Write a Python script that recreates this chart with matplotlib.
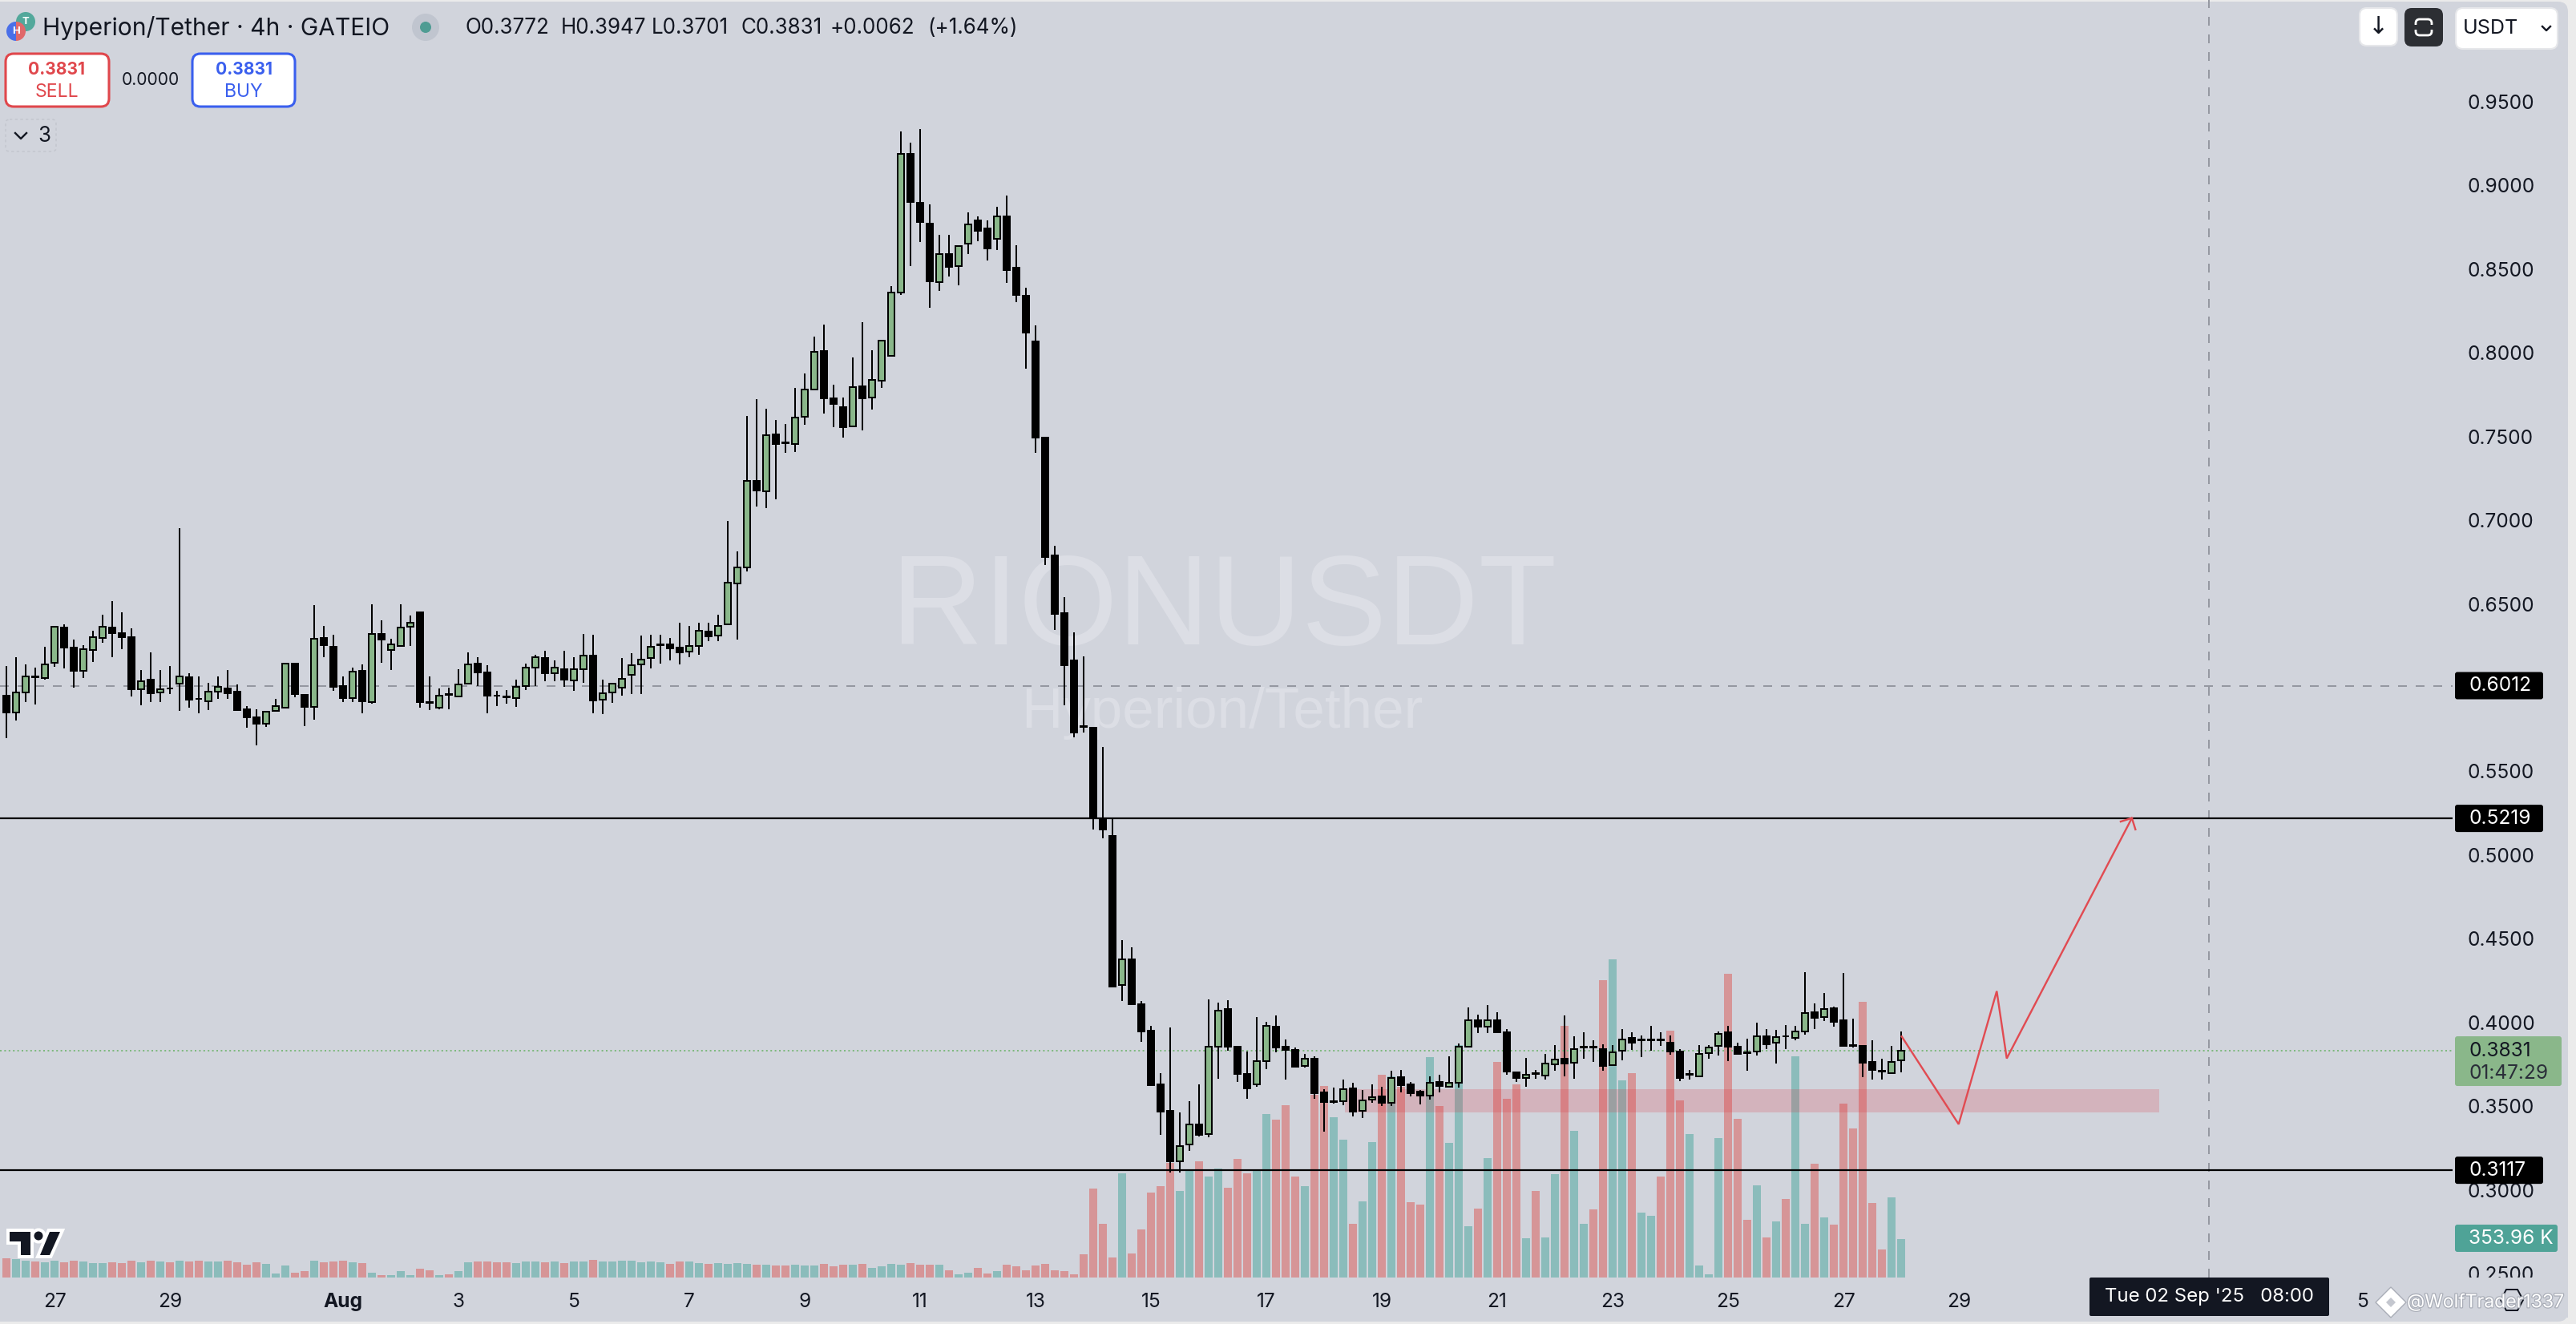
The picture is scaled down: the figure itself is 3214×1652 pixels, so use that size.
import numpy as np
import matplotlib
matplotlib.use("Agg")
import matplotlib.pyplot as plt
import matplotlib.patheffects as pe
from matplotlib.patches import FancyBboxPatch, Rectangle, Circle, Wedge, Polygon

W, H = 3214, 1652
BG = "#d1d4dc"
OUTER = "#ebebeb"
INK = "#131722"
plt.rcParams["font.family"] = ["Inter", "DejaVu Sans"]

# 4h candles, 26 Jul 20:00 to 28 Aug 04:00
opens = [
    .5950, .5852, .5969, .6067, .6057, .6149, .6357, .6240, .6101, .6226,
    .6298, .6360, .6328, .6304, .5991, .6046, .5972, .5997, .6025, .6060,
    .5935, .5919, .5977, .5993, .5974, .5872, .5824, .5785, .5862, .5881,
    .6144, .5958, .5886, .6298, .6245, .6010, .5939, .6101, .5913, .6322,
    .6226, .6250, .6365, .6448, .5914, .5881, .5961, .5948, .6025, .6144,
    .6089, .5953, .5947, .5939, .6012, .6121, .6178, .6087, .6111, .6044,
    .6111, .6192, .5927, .5972, .6001, .6077, .6140, .6175, .6260, .6259,
    .6239, .6216, .6250, .6336, .6312, .6376, .6623, .6719, .7236, .7175,
    .7514, .7466, .7456, .7616, .7779, .8012, .7729, .7676, .7562, .7801,
    .7731, .7836, .7980, .8361, .9191, .8899, .8773, .8425, .8591, .8519,
    .8653, .8792, .8744, .8682, .8816, .8510, .8342, .8069, .7495, .6792,
    .6447, .6165, .5769, .5762, .5218, .5114, .4226, .4375, .4111, .3950,
    .3629, .3470, .3171, .3269, .3393, .3331, .3857, .4078, .3857, .3690,
    .3632, .3771, .3977, .3853, .3838, .3738, .3781, .3580, .3528, .3529,
    .3604, .3471, .3537, .3556, .3522, .3671, .3628, .3586, .3561, .3644,
    .3618, .3642, .3857, .4015, .3974, .4011, .3939, .3704, .3666, .3698,
    .3685, .3752, .3781, .3757, .3853, .3853, .3842, .3744, .3829, .3910,
    .3896, .3896, .3896, .3881, .3824, .3690, .3677, .3816, .3859, .3939,
    .3857, .3820, .3826, .3918, .3877, .3919, .3907, .3945, .4059, .4030,
    .4084, .4011, .3866, .3859, .3762, .3710, .3699, .3772,
]
highs = [
    .6127, .6184, .6141, .6121, .6242, .6363, .6379, .6288, .6255, .6339,
    .6438, .6515, .6448, .6352, .6103, .6213, .6103, .6127, .6955, .6084,
    .6069, .6030, .6065, .6103, .6017, .5892, .5872, .5856, .5935, .6143,
    .6144, .5958, .6491, .6371, .6314, .6069, .6121, .6137, .6500, .6400,
    .6290, .6496, .6429, .6448, .6069, .5993, .6002, .6108, .6213, .6180,
    .6132, .5982, .5988, .6049, .6144, .6194, .6218, .6165, .6219, .6180,
    .6322, .6314, .6049, .6031, .6175, .6207, .6309, .6314, .6317, .6295,
    .6389, .6371, .6389, .6389, .6438, .6998, .6816, .7621, .7726, .7664,
    .7601, .7573, .7793, .7879, .8095, .8171, .7812, .7731, .7975, .8181,
    .8018, .8072, .8401, .9325, .9258, .9339, .8885, .8703, .8703, .8637,
    .8841, .8813, .8789, .8875, .8942, .8645, .8391, .8162, .7495, .6849,
    .6543, .6332, .6188, .5762, .5647, .5226, .4491, .4448, .4127, .3979,
    .3696, .3969, .3462, .3529, .3629, .4137, .4118, .4132, .3857, .3826,
    .4031, .4003, .4041, .3897, .3848, .3811, .3797, .3601, .3610, .3658,
    .3639, .3596, .3629, .3615, .3711, .3715, .3644, .3596, .3677, .3687,
    .3797, .3872, .4089, .4046, .4103, .4060, .3960, .3709, .3787, .3715,
    .3811, .3864, .4041, .3917, .3940, .3893, .3869, .3864, .3960, .3940,
    .3921, .3979, .3940, .3921, .3843, .3715, .3864, .3864, .3945, .3979,
    .3878, .3902, .3998, .3960, .3955, .3984, .3979, .4300, .4113, .4175,
    .4094, .4295, .4022, .3864, .3893, .3782, .3859, .3947,
]
lows = [
    .5698, .5805, .5913, .5900, .6050, .6124, .6117, .5999, .6057, .6152,
    .6267, .6181, .6232, .5945, .5897, .5916, .5913, .5961, .5860, .5878,
    .5849, .5865, .5932, .5932, .5859, .5760, .5655, .5765, .5860, .5881,
    .5942, .5769, .5808, .6184, .5983, .5913, .5913, .5846, .5904, .6148,
    .6105, .6250, .6251, .5878, .5865, .5873, .5872, .5945, .6020, .6012,
    .5849, .5889, .5902, .5884, .5985, .6012, .6038, .6038, .6004, .5980,
    .6031, .5849, .5841, .5908, .5951, .5964, .5964, .6117, .6146, .6162,
    .6137, .6180, .6194, .6280, .6280, .6376, .6286, .6695, .7081, .7072,
    .7126, .7402, .7407, .7570, .7779, .7637, .7555, .7493, .7555, .7536,
    .7660, .7790, .7980, .8345, .8517, .8661, .8269, .8369, .8455, .8403,
    .8589, .8666, .8551, .8613, .8417, .8302, .7905, .7402, .6731, .6343,
    .5896, .5705, .5730, .5154, .5098, .4215, .4129, .4102, .3883, .3621,
    .3329, .3101, .3101, .3233, .3318, .3316, .3664, .3832, .3645, .3545,
    .3616, .3722, .3822, .3660, .3731, .3731, .3545, .3348, .3516, .3505,
    .3439, .3430, .3521, .3502, .3502, .3581, .3559, .3511, .3540, .3583,
    .3612, .3613, .3857, .3937, .3937, .3942, .3688, .3645, .3616, .3664,
    .3660, .3712, .3677, .3664, .3782, .3765, .3712, .3744, .3775, .3835,
    .3794, .3829, .3861, .3808, .3650, .3660, .3677, .3784, .3803, .3770,
    .3808, .3712, .3803, .3840, .3755, .3840, .3894, .3928, .3961, .4009,
    .3976, .3856, .3851, .3674, .3660, .3660, .3695, .3701,
]
closes = [
    .5852, .5969, .6065, .6063, .6141, .6363, .6239, .6100, .6232, .6301,
    .6363, .6325, .6301, .5990, .6038, .5966, .5990, .5993, .6066, .5927,
    .5931, .5975, .6004, .5966, .5865, .5822, .5784, .5856, .5889, .6143,
    .5961, .5884, .6291, .6253, .6006, .5937, .6095, .5918, .6320, .6287,
    .6258, .6358, .6387, .5913, .5910, .5951, .5957, .6018, .6138, .6090,
    .5951, .5950, .5944, .6004, .6119, .6181, .6085, .6119, .6047, .6109,
    .6191, .5923, .5966, .6023, .6052, .6133, .6167, .6243, .6256, .6234,
    .6210, .6248, .6339, .6307, .6368, .6626, .6717, .7234, .7177, .7507,
    .7455, .7462, .7613, .7780, .8005, .7727, .7694, .7555, .7795, .7727,
    .7838, .8072, .8360, .9188, .8901, .8781, .8427, .8589, .8513, .8637,
    .8767, .8728, .8623, .8814, .8494, .8345, .8120, .7493, .6782, .6439,
    .6133, .5730, .5765, .5218, .5154, .4215, .4378, .4108, .3947, .3626,
    .3468, .3171, .3262, .3393, .3329, .3856, .4071, .3856, .3693, .3607,
    .3767, .3980, .3851, .3837, .3735, .3784, .3578, .3526, .3524, .3602,
    .3468, .3535, .3554, .3521, .3669, .3626, .3578, .3561, .3640, .3621,
    .3640, .3856, .4012, .3976, .4012, .3942, .3707, .3669, .3688, .3694,
    .3755, .3779, .3755, .3842, .3849, .3849, .3741, .3822, .3899, .3880,
    .3892, .3892, .3892, .3824, .3669, .3686, .3813, .3850, .3933, .3856,
    .3813, .3816, .3918, .3870, .3913, .3915, .3947, .4057, .4028, .4081,
    .4004, .3859, .3862, .3760, .3717, .3706, .3765, .3831,
]

# volume in thousands, r = red bar, t = teal bar
volumes = [
    177, 170, 155, 147, 140, 155, 140, 155, 147, 133,
    133, 140, 133, 155, 140, 155, 147, 140, 155, 147,
    155, 147, 147, 155, 140, 118, 140, 125, 37, 111,
    44, 59, 155, 140, 147, 155, 140, 133, 44, 22,
    22, 59, 22, 81, 66, 22, 29, 59, 140, 147,
    147, 140, 140, 133, 147, 147, 140, 147, 133, 147,
    147, 162, 147, 147, 155, 155, 140, 147, 140, 125,
    147, 147, 133, 125, 133, 125, 133, 125, 118, 118,
    111, 111, 118, 111, 111, 125, 103, 118, 118, 125,
    88, 103, 125, 118, 133, 118, 118, 118, 66, 29,
    44, 88, 37, 59, 118, 103, 66, 111, 125, 66,
    59, 29, 214, 819, 494, 184, 959, 221, 442, 782,
    841, 1054, 796, 995, 1069, 929, 1003, 826, 1091, 959,
    995, 1504, 1453, 1585, 929, 841, 1681, 1762, 1475, 1268,
    494, 701, 1246, 1866, 1851, 1755, 693, 671, 2028, 1578,
    1239, 2136, 472, 634, 1099, 1984, 1644, 1777, 361, 796,
    369, 951, 2315, 1349, 494, 627, 2736, 2928, 1814, 1880,
    597, 568, 929, 2271, 1630, 1320, 111, 29, 1283, 2795,
    1460, 531, 848, 369, 516, 723, 2035, 494, 1047, 553,
    487, 1600, 1372, 2537, 686, 258, 737, 353.96,
]
vol_sides = (
    "rttrttrrtt" "trrrtrtrtr" "rttrrrrttt" "rrtrrrtrtr" "tttrrtrttr"
    "rrrtttrtrt" "trtttttttr" "rttrttttrt" "rrtttrrrtr" "ttttrrrtrt"
    "trrtrrrrrr" "rrrrrrtrrr" "rrttrttrrr" "ttrrrtrrtt" "rttrtrrrtr"
    "tttrtrrrtr" "ttrttrrttr" "ttrrrttttr" "rrtrtrttrt" "rrrrrrtt"
)

price_ticks = [.95, .90, .85, .80, .75, .70, .65, .60, .55, .50, .45, .40, .35, .30, .25]
date_labels = ["27", "29", "Aug", "3", "5", "7", "9", "11", "13", "15", "17", "19",
               "21", "23", "25", "27", "29", "5"]
date_bars = [5, 17, 35, 47, 59, 71, 83, 95, 107, 119, 131, 143, 155, 167, 179, 191, 203, 245]

support_levels = [.5219, .3117]
crosshair_price = .6012
crosshair_bar = 229
last_price = .3831
zone_bars = [139.2, 223.8]
zone_prices = [.3462, .3601]
path_bars = [197.06, 202.98, 206.94, 207.98, 220.99]
path_prices = [.3916, .3392, .4187, .3785, .5221]
arrow_bars = [219.83, 220.99, 221.36]
arrow_prices = [.5200, .5221, .5153]


def pt(px):
    return px * 0.72


def price_y(p):
    return 127 + (.95 - p) * 2088.6


fig = plt.figure(figsize=(W / 100, H / 100), dpi=100, facecolor=OUTER)
fig.add_artist(FancyBboxPatch((-20 / W, 1 - 1649 / H), 3224 / W, 1647 / H, boxstyle="round,pad=0,rounding_size=0.004",
                              transform=fig.transFigure, fc=BG, ec="none", zorder=-1, mutation_aspect=W / H))

# plot area: pixels 0-3060 across, 0-1594 down
pos = [0, 1 - 1594 / H, 3060 / W, 1594 / H]
ax_vol = fig.add_axes(pos, zorder=1)
ax = fig.add_axes(pos, zorder=2, sharex=ax_vol)
for a in (ax, ax_vol):
    a.patch.set_visible(False)
    for s in a.spines.values():
        s.set_visible(False)

bars = np.arange(len(closes))
o, h, l, c = map(np.array, (opens, highs, lows, closes))

ax_vol.text(1527 / W, 1 - 763 / H, "RIONUSDT", transform=fig.transFigure, family="Liberation Sans",
            fontsize=pt(159), color="#dcdee5", ha="center", va="center", zorder=0)
ax_vol.text(1525 / W, 1 - 890 / H, "Hyperion/Tether", transform=fig.transFigure, family="Liberation Sans",
            fontsize=pt(71), color="#dcdee5", ha="center", va="center", zorder=0)

vol_colors = ["#d69597" if s == "r" else "#8bbcbb" for s in vol_sides]
ax_vol.bar(bars, volumes, width=10 / 12, color=vol_colors, lw=0, zorder=2)
ax_vol.set_ylim(0, 1594 * 7.374)
ax_vol.set_yticks([])
ax_vol.tick_params(axis="x", length=0, labelbottom=False)

# zone, levels, crosshair
ax.add_patch(Rectangle((zone_bars[0], zone_prices[0]), zone_bars[1] - zone_bars[0], zone_prices[1] - zone_prices[0],
                       fc="#e02f3c", alpha=.2, ec="none", zorder=1))
for lvl in support_levels:
    ax.axhline(lvl, color="black", lw=pt(2.2), zorder=2)
ax.axhline(crosshair_price, color="#9598a1", lw=pt(2), dashes=(5.5, 5.5), zorder=1.5)
ax.axvline(crosshair_bar, color="#9598a1", lw=pt(2), dashes=(5.5, 5.5), zorder=1.5)
ax.axhline(last_price, color="#7fb97f", lw=pt(2), dashes=(1, 1.7), zorder=1.5)

# candles
up = c >= o
ax.vlines(bars, l, h, color="black", lw=pt(2), zorder=3)
ax.bar(bars[up], (c - o)[up], bottom=o[up], width=8 / 12, fc="#8ab78a", ec="black", lw=pt(2), zorder=4)
ax.bar(bars[~up], (o - c)[~up], bottom=c[~up], width=8 / 12, fc="black", ec="black", lw=pt(2), zorder=4)

# drawn path
ax.plot(path_bars, path_prices, color="#e14b52", lw=pt(2.4), zorder=5, solid_joinstyle="miter")
ax.plot(arrow_bars, arrow_prices, color="#e14b52", lw=pt(2.4), zorder=5)

ax.set_xlim(-8 / 12, (3060 - 8) / 12)
ax.set_ylim(.95 - (1594 - 127) / 2088.6, .95 + 127 / 2088.6)
ax.yaxis.tick_right()
ax.set_yticks(price_ticks)
ax.set_yticklabels([f"{p:.4f}" for p in price_ticks], fontsize=pt(24.5), color=INK)
ax.set_xticks(date_bars)
ax.set_xticklabels(date_labels, fontsize=pt(24.5), color=INK)
ax.tick_params(axis="both", length=0)
ax.tick_params(axis="y", pad=pt(18))
ax.tick_params(axis="x", pad=pt(19))
ax.get_xticklabels()[2].set_fontweight("bold")

# UI drawn in image pixels on top
ui = fig.add_axes([0, 0, 1, 1], zorder=3)
ui.set_xlim(0, W)
ui.set_ylim(H, 0)
ui.axis("off")


def box(x0, y0, x1, y1, fc, ec="none", lw=0, r=4, **kw):
    ui.add_patch(FancyBboxPatch((x0, y0), x1 - x0, y1 - y0, boxstyle=f"round,pad=0,rounding_size={r}",
                                fc=fc, ec=ec, lw=lw, **kw))


def label(x, y, s, size, color=INK, ha="left", weight="normal", **kw):
    return ui.text(x, y, s, fontsize=pt(size), color=color, ha=ha, va="center", fontweight=weight, **kw)


# hide the lower part of the 0.2500 tick
ui.add_patch(Rectangle((3062, 1594), 142, 50, fc=BG, ec="none"))

# header
ui.add_patch(Circle((32, 27), 12, fc="#53a89b", ec="none"))
label(32, 27, "T", 13, "white", "center", "bold")
ui.add_patch(Wedge((20, 39), 12, 90, 270, fc="#4a6fe8", ec="none"))
ui.add_patch(Wedge((20, 39), 12, -90, 90, fc="#e0686a", ec="none"))
label(20, 39, "H", 13, "white", "center", "bold")
label(53, 35, "Hyperion/Tether · 4h · GATEIO", 30)
ui.add_patch(Circle((531, 34), 17, fc="#c0c5cf", ec="none"))
ui.add_patch(Circle((531, 34), 7, fc="#4f9c93", ec="none"))
for x, s in zip([581, 700, 813, 925, 1036, 1157],
                ["O0.3772", "H0.3947", "L0.3701", "C0.3831", "+0.0062", "(+1.64%)"]):
    label(x, 35, s, 26)

box(7, 67, 136, 133, "white", "#e0474c", 2.2, r=10)
label(71, 87, "0.3831", 21, "#e0474c", "center", "bold")
label(71, 115, "SELL", 23, "#e0474c", "center")
label(188, 100, "0.0000", 21, INK, "center")
box(240, 67, 368, 133, "white", "#3a5fee", 2.2, r=10)
label(304, 87, "0.3831", 21, "#3a5fee", "center", "bold")
label(304, 115, "BUY", 23, "#3a5fee", "center")

box(7, 149, 70, 189, "none", "#c4c7cf", 1.2, r=5, ls=(0, (2, 2)))
ui.plot([19, 26, 33], [166, 173, 166], color=INK, lw=pt(2.4))
label(47, 170, "3", 26)

# top right buttons
box(2944, 10, 2991, 57, "white", "#e6e7ea", 1.5, r=9)
label(2967.5, 34, "↓", 30, INK, "center", family="DejaVu Sans")
box(3000, 10, 3048, 58, "#2c2e33", r=9)
box(3014, 24, 3034, 44, "none", "white", 2, r=5)
ui.add_patch(Rectangle((3011, 31), 26, 6, fc="#2c2e33", ec="none", zorder=3))
box(3064, 10, 3191, 61, "white", "#e6e7ea", 1.5, r=9)
label(3073, 36, "USDT", 25)
ui.plot([3172, 3177, 3182], [33, 38, 33], color=INK, lw=pt(2.4))

# price labels
for lvl in [support_levels[0], support_levels[1], crosshair_price]:
    y = price_y(lvl)
    box(3063, y - 17, 3173, y + 17, "black", r=3)
    label(3080, y, f"{lvl:.4f}", 24.5, "white")
y = price_y(last_price)
box(3063, y - 18, 3196, y + 44, "#8ab78a", r=3)
label(3080, y, f"{last_price:.4f}", 24.5)
label(3080, y + 28, "01:47:29", 24.5, "#2a2e39")
box(3063, 1528, 3191, 1562, "#4fa397", r=3)
label(3080, 1545, f"{volumes[-1]:.2f} K", 24.5, "white")

# crosshair date
box(2607, 1594, 2906, 1642, INK, r=2)
label(2626, 1618, "Tue 02 Sep '25   08:00", 24, "white")

# TradingView mark
stroke = [pe.withStroke(linewidth=pt(8), foreground="white")]
ui.add_patch(Polygon([(12, 1537), (38, 1537), (38, 1566), (26, 1566), (26, 1549), (12, 1549)],
                     fc=INK, ec="none", path_effects=stroke))
ui.add_patch(Circle((48, 1542), 5.5, fc=INK, ec="none", path_effects=stroke))
ui.add_patch(Polygon([(62, 1537), (75, 1537), (62, 1566), (50, 1566)], fc=INK, ec="none", path_effects=stroke))

# settings hexagon and Binance watermark
ui.add_patch(Polygon([(3120, 1622), (3127, 1609), (3141, 1609), (3148, 1622), (3141, 1635), (3127, 1635)],
                     fc="none", ec=INK, lw=pt(2)))
shadow = [pe.withStroke(linewidth=pt(2.5), foreground="#a9adb7")]
ui.add_patch(Polygon([(2983, 1606), (3002, 1625), (2983, 1644), (2964, 1625)], fc="white", ec="#a9adb7", lw=1))
ui.add_patch(Polygon([(2983, 1619), (2989, 1625), (2983, 1631), (2977, 1625)], fc="#c4c7cf", ec="none"))
label(3003, 1625, "@WolfTrader1337", 23, "white", path_effects=shadow)

fig.savefig("out.png", dpi=100, facecolor=OUTER)
